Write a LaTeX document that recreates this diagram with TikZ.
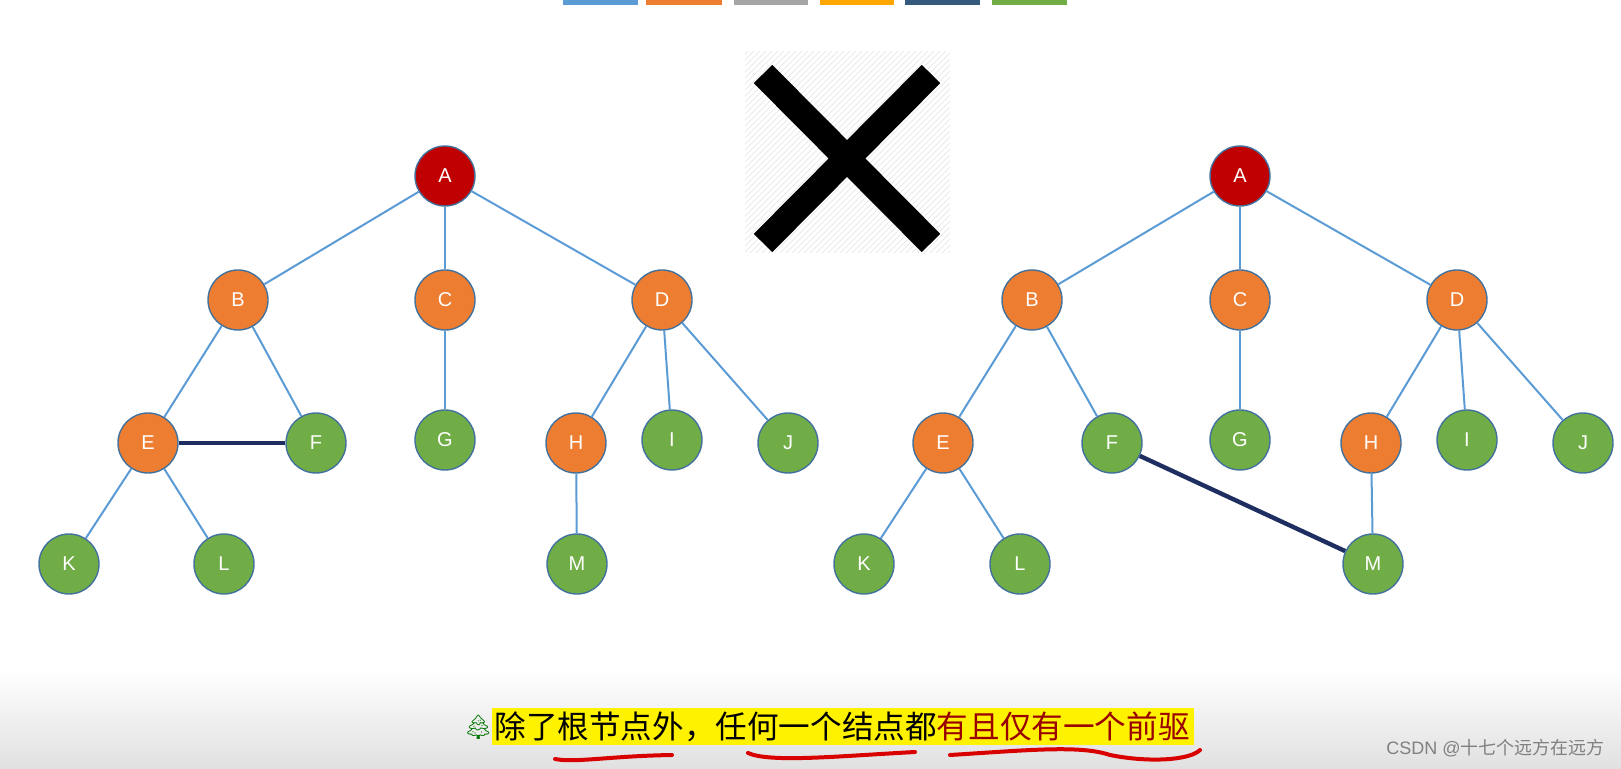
\documentclass[tikz,border=0pt]{standalone}
\usepackage{fontspec}
\setmainfont{Liberation Sans}
\newfontfamily\cjk{Noto Sans CJK SC}
\newfontfamily\emo{Noto Emoji}
\usetikzlibrary{patterns}
\definecolor{edgec}{RGB}{91,155,213}
\definecolor{bordc}{RGB}{65,113,156}
\definecolor{rootc}{RGB}{192,0,0}
\definecolor{orgc}{RGB}{237,125,49}
\definecolor{grnc}{RGB}{112,173,71}
\definecolor{navyc}{RGB}{31,46,96}
\begin{document}
\begin{tikzpicture}[x=0.5pt,y=-0.5pt,
  nd/.style={circle,draw=bordc,line width=0.7pt,minimum size=30pt,inner sep=0pt,text=white,font=\fontsize{10}{12}\selectfont},
  rt/.style={nd,fill=rootc},og/.style={nd,fill=orgc},gr/.style={nd,fill=grnc},
  ed/.style={edgec,line width=1pt},
  bad/.style={navyc,line width=2.2pt}]
\useasboundingbox (0,0) rectangle (1621,769);
\shade[top color=white,bottom color=black!12] (0,670) rectangle (1621,769);
% color bars
\foreach \a/\b/\c in {563/638/edgec,646/722/orgc,734/808/gray!70,820/894/orange!70!yellow,905/980/bordc!80!black,992/1067/grnc}
  \fill[\c] (\a,0) rectangle (\b,5);
% X
\fill[pattern=north east lines,pattern color=black!8] (745,52) rectangle (950,253);
\draw[line width=13pt] (763,74) -- (931,243) (931,74) -- (763,243);
% left tree
\node[rt] (A) at (445,176) {A};
\node[og] (B) at (238,300) {B};
\node[og] (C) at (445,300) {C};
\node[og] (D) at (662,300) {D};
\node[og] (E) at (148,443) {E};
\node[gr] (F) at (316,443) {F};
\node[gr] (G) at (445,440) {G};
\node[og] (H) at (576,443) {H};
\node[gr] (I) at (672,440) {I};
\node[gr] (J) at (788,443) {J};
\node[gr] (K) at (69,564) {K};
\node[gr] (L) at (224,564) {L};
\node[gr] (M) at (577,564) {M};
\foreach \u/\v in {A/B,A/C,A/D,B/E,B/F,C/G,D/H,D/I,D/J,E/K,E/L,H/M}
  \draw[ed] (\u) -- (\v);
\draw[bad] (E) -- (F);
% right tree
\node[rt] (rA) at (1240,176) {A};
\node[og] (rB) at (1032,300) {B};
\node[og] (rC) at (1240,300) {C};
\node[og] (rD) at (1457,300) {D};
\node[og] (rE) at (943,443) {E};
\node[gr] (rF) at (1112,443) {F};
\node[gr] (rG) at (1240,440) {G};
\node[og] (rH) at (1371,443) {H};
\node[gr] (rI) at (1467,440) {I};
\node[gr] (rJ) at (1583,443) {J};
\node[gr] (rK) at (864,564) {K};
\node[gr] (rL) at (1020,564) {L};
\node[gr] (rM) at (1373,564) {M};
\foreach \u/\v in {A/B,A/C,A/D,B/E,B/F,C/G,D/H,D/I,D/J,E/K,E/L,H/M}
  \draw[ed] (r\u) -- (r\v);
\draw[bad] (rF) -- (rM);
% caption
\fill[yellow] (492,708) rectangle (1194,745);
\node[anchor=west,inner sep=0pt,font=\fontsize{15.8}{18}\selectfont] (cap) at (494,727) {\cjk 除了根节点外，任何一个结点都\textcolor{red!60!black}{有且仅有一个前驱}};
\node[anchor=east,inner sep=0pt,text=green!45!black,font=\fontsize{12}{14}\selectfont] (tree) at (cap.west) {\emo 🌲};
\draw[red!85!black,line width=2pt,line cap=round] (555,759) .. controls (575,763) and (610,756) .. (672,755);
\draw[red!85!black,line width=2pt,line cap=round] (748,753) .. controls (770,763) and (840,756) .. (915,752);
\draw[red!85!black,line width=2pt,line cap=round] (950,755) .. controls (1030,750) and (1080,745) .. (1110,755) .. controls (1150,763) and (1190,760) .. (1200,750);
\node[anchor=east,inner sep=0pt,text=gray,font=\fontsize{9}{11}\selectfont] (wm) at (1605,748) {CSDN @\cjk 十七个远方在远方};
\end{tikzpicture}
\end{document}
